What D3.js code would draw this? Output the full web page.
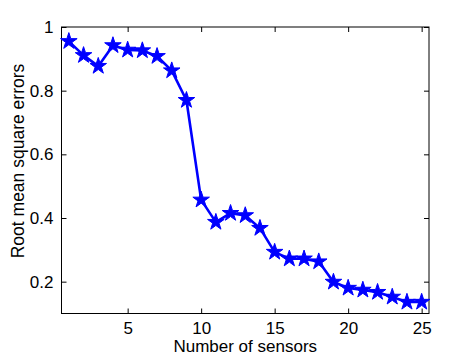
<!DOCTYPE html>
<html><head><meta charset="utf-8">
<script src="https://cdn.jsdelivr.net/npm/d3@7"></script>
<style>body{margin:0;background:#fff}svg{display:block}text{font-family:"Liberation Sans",Arial,Helvetica,sans-serif}</style>
</head><body>
<svg id="c" width="474" height="356"></svg>
<script>
const sensors = [1,2,3,4,5,6,7,8,9,10,11,12,13,14,15,16,17,18,19,20,21,22,23,24,25];
const rmse = [0.955,0.911,0.877,0.942,0.928,0.926,0.908,0.863,0.770,0.457,0.387,0.415,0.408,0.368,0.293,0.272,0.272,0.263,0.199,0.180,0.174,0.167,0.152,0.136,0.136];
const xTicks = [5,10,15,20,25];
const yTicks = [0.2,0.4,0.6,0.8,1];
const xLabel = "Number of sensors";
const yLabel = "Root mean square errors";

const L=61.5, R=429, T=27, B=313.5;
const svg = d3.select("#c");
const x = d3.scaleLinear().domain([0.5,25.5]).range([L,R]);
const y = d3.scaleLinear().domain([0.1,1]).range([B,T]);
const fs = 17;

// box
svg.append("rect").attr("x",L).attr("y",T).attr("width",R-L).attr("height",B-T)
  .attr("fill","none").attr("stroke","#000").attr("stroke-width",1);

// axes
const gx = svg.append("g").attr("transform",`translate(0,${B})`)
  .call(d3.axisBottom(x).tickValues(xTicks).tickFormat(d3.format("d")).tickSize(-5).tickPadding(8));
const gxTop = svg.append("g").attr("transform",`translate(0,${T})`)
  .call(d3.axisTop(x).tickValues(xTicks).tickFormat("").tickSize(-5));
const gy = svg.append("g").attr("transform",`translate(${L},0)`)
  .call(d3.axisLeft(y).tickValues(yTicks).tickFormat(d=>d===1?"1":d3.format(".1f")(d)).tickSize(-5).tickPadding(8));
const gyR = svg.append("g").attr("transform",`translate(${R},0)`)
  .call(d3.axisRight(y).tickValues(yTicks).tickFormat("").tickSize(-5));
[gx,gxTop,gy,gyR].forEach(g=>{
  g.select(".domain").remove();
  g.selectAll("line").attr("stroke","#000").attr("stroke-width",1);
  g.selectAll("text").attr("font-size",fs).attr("fill","#000").attr("font-family",'"Liberation Sans",Arial,sans-serif');
});

// line
const line = d3.line().x((d,i)=>x(sensors[i])).y(d=>y(d));
svg.append("path").datum(rmse).attr("d",line).attr("fill","none")
  .attr("stroke","#0000ff").attr("stroke-width",2.6).attr("stroke-linejoin","round");

// star markers
const star = d3.symbol().type(d3.symbolStar).size(85);
svg.append("g").selectAll("path").data(rmse).join("path")
  .attr("d",star)
  .attr("transform",(d,i)=>`translate(${x(sensors[i])},${y(d)})`)
  .attr("fill","#0000ff").attr("stroke","#0000ff").attr("stroke-width",1);

// labels
svg.append("text").attr("x",(L+R)/2).attr("y",352).attr("text-anchor","middle")
  .attr("font-size",17).text(xLabel);
svg.append("text").attr("transform",`translate(24,161) rotate(-90)`)
  .attr("text-anchor","middle").attr("font-size",17.5).text(yLabel);
</script>
</body></html>
